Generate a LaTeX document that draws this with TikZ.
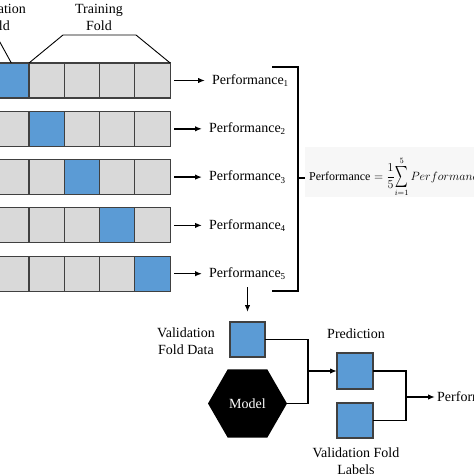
\documentclass[tikz,border=0pt]{standalone}
\usepackage{fontspec}
\usepackage{graphicx}
\setmainfont{Liberation Serif}
\usetikzlibrary{arrows.meta,shapes.geometric,calc}
\definecolor{cellgray}{RGB}{217,217,217}
\definecolor{cellblue}{RGB}{91,155,213}
\definecolor{fbg}{RGB}{247,247,247}
\newcommand\psub[1]{\raisebox{-0.35ex}{\fontsize{9}{9}\selectfont #1}}
\newcommand\tallsum{\mathop{\vcenter{\hbox{\scalebox{0.87}[1.5]{$\displaystyle\sum$}}}}\limits}
\begin{document}
\begin{tikzpicture}[x=1pt,y=-1pt,
  cell/.style={draw=black!75, line width=1.1pt, minimum width=35.3pt, minimum height=35pt, inner sep=0, outer sep=0, fill=cellgray},
  valbox/.style={cell, fill=cellblue},
  lbl/.style={inner sep=0, font=\fontsize{14}{17}\selectfont},
  arr/.style={line width=1.4pt, -{Latex[length=7pt,width=5.5pt]}},
  ln/.style={line width=1.3pt}]
\useasboundingbox (0,0) rectangle (474,474);
\clip (0,0) rectangle (474,474);
% formula background
\fill[fbg] (305,147) rectangle (474,197);
% folds
\foreach \r in {0,...,4} {
  \foreach \k in {0,...,4} {
    \ifnum\r=\k \def\fc{cellblue}\else\def\fc{cellgray}\fi
    \node[cell, fill=\fc] (c-\r-\k) at (11.35+35.3*\k, 80.5+48.3*\r) {};
  }
}
% top labels
\node[lbl, align=center] (trl) at (99,17) {Training\\Fold};
\node[lbl, align=center] (vtl) at (-3,17) {Validation\\Fold};
\draw[line width=0.9pt] (c-0-1.north west) -- (63,35) -- (136,35) -- (c-0-4.north east);
\draw[line width=0.9pt] (-4,35) -- (c-0-0.north);
% performance labels
\foreach \r/\xx in {0/212,1/209,2/209,3/209,4/209} {
  \pgfmathtruncatemacro\n{\r+1}
  \node[lbl, anchor=west] (p-\r) at (\xx, 80.5+48.3*\r) {Performance\psub{\n}};
  \draw[arr] ($(c-\r-4.east)+(4,0)$) -- ($(c-\r-4.east -| p-\r.west)+(-7,0)$);
}
% bracket
\draw[ln] (272,67) -- (298,67) -- (298,291) -- (272,291);
\draw[ln] (298,178) -- (305,178);
\node[anchor=base west, inner sep=0, font=\fontsize{12}{14}\selectfont] (formula) at (309,180)
  {Performance\hspace{3.5pt}$\displaystyle{=}\;\frac{1}{5}\!\tallsum_{i=1}^{5} Performance_i$};
% bottom part
\node[valbox, minimum width=35pt] (vfd) at (247.5,339.5) {};
\coordinate (d0) at (247.5,287);
\draw[arr, shorten >=10pt] (d0) -- (vfd.north);
\node[lbl, align=center] (vfdl) at (186,341) {Validation\\Fold Data};
\node[regular polygon, regular polygon sides=6, minimum size=79pt, fill=black, inner sep=0,
  text=white, font=\fontsize{14}{17}\selectfont] (model) at (247.5,403.5) {Model};
\node[valbox, minimum width=36pt, minimum height=36pt] (pred) at (355,371) {};
\node[lbl] (predl) at (356,334) {Prediction};
\node[valbox, minimum width=36pt] (lab) at (355,420.5) {};
\node[lbl, align=center] (labl) at (356,461) {Validation Fold\\Labels};
\coordinate (j1) at (308,371);
\draw[ln] (vfd.east) -| (j1) |- (model.east);
\draw[arr] (j1) -- (pred.west);
\coordinate (j2) at (406,397);
\draw[ln] (pred.east) -| (j2) |- (lab.east);
\node[lbl, anchor=west] (perf) at (437,397) {Performance};
\draw[arr, shorten >=2pt] (j2) -- (perf.west);
\end{tikzpicture}
\end{document}
